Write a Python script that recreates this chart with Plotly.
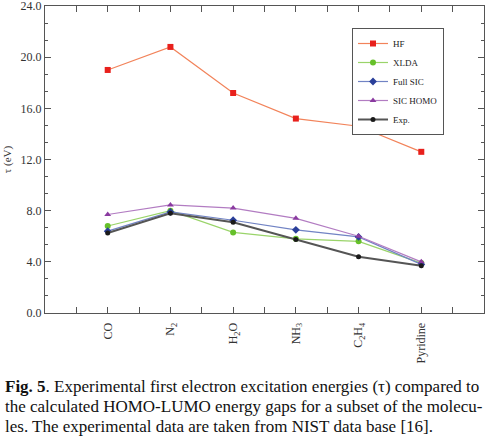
import plotly.graph_objects as go

molecules = ["CO", "N<sub>2</sub>", "H<sub>2</sub>O", "NH<sub>3</sub>", "C<sub>2</sub>H<sub>4</sub>", "Pyridine"]
positions = [0, 1, 2, 3, 4, 5]

hf = [19.0, 20.8, 17.2, 15.2, 14.6, 12.6]
xlda = [6.8, 8.0, 6.3, 5.8, 5.6, 3.9]
full_sic = [6.4, 7.9, 7.25, 6.5, 5.95, 3.8]
sic_homo = [7.7, 8.45, 8.2, 7.4, 6.0, 4.0]
exp = [6.25, 7.8, 7.1, 5.75, 4.4, 3.7]

series = [
    ("HF", hf, "#e8201c", "#f2835a", "square", 6),
    ("XLDA", xlda, "#66c02a", "#9ad46a", "circle", 6),
    ("Full SIC", full_sic, "#2a3f9a", "#7183c4", "diamond", 6),
    ("SIC HOMO", sic_homo, "#8a3aa0", "#b27cc2", "triangle-up", 6),
    ("Exp.", exp, "#1a1a1a", "#555555", "circle", 5),
]

fig = go.Figure()
for name, vals, mcol, lcol, sym, size in series:
    fig.add_trace(go.Scatter(
        x=positions, y=vals, name=name, mode="lines+markers",
        line=dict(color=lcol, width=2 if name == "Exp." else 1.2),
        marker=dict(color=mcol, symbol=sym, size=size),
    ))

serif = "Liberation Serif"
axis_common = dict(showline=True, linecolor="#555555", linewidth=1, mirror="ticks",
                   ticks="inside", ticklen=6, tickcolor="#555555", showgrid=False,
                   zeroline=False, ticklabeloverflow="allow", automargin=False,
                   tickfont=dict(family=serif, size=12, color="#333333"))

fig.update_xaxes(range=[-1, 6], tickmode="array", tickvals=positions, ticktext=molecules,
                 tickangle=-90, ticklabelstandoff=4,
                 minor=dict(dtick=0.5, tick0=0, ticks="inside", ticklen=6, tickcolor="#555555"),
                 **axis_common)
fig.update_yaxes(range=[0, 24], dtick=4, tickformat=".1f",
                 minor=dict(dtick=4/3, tick0=0, ticks="inside", ticklen=3, tickcolor="#555555"),
                 title=dict(text="τ (eV)", font=dict(family=serif, size=11, color="#333333"), standoff=6),
                 **axis_common)

PLOT_TOP, PLOT_BOTTOM, PLOT_LEFT, PLOT_RIGHT = 6, 313, 45, 484
ph = PLOT_BOTTOM - PLOT_TOP
pw = PLOT_RIGHT - PLOT_LEFT

caption = [
    "<b>Fig. 5</b>. Experimental first electron excitation energies (τ) compared to",
    "the calculated HOMO-LUMO energy gaps for a subset of the molecu-",
    "les. The experimental data are taken from NIST data base [16].",
]
ys = [386, 406, 426]
for text, yy in zip(caption, ys):
    fig.add_annotation(text=text, xref="paper", yref="paper", x=(3 - PLOT_LEFT) / pw,
                       y=(PLOT_BOTTOM - yy) / ph, xanchor="left", yanchor="middle",
                       showarrow=False, font=dict(family=serif, size=17, color="#111111"))

fig.update_layout(
    width=490, height=444,
    margin=dict(l=PLOT_LEFT, r=490 - PLOT_RIGHT, t=PLOT_TOP, b=444 - PLOT_BOTTOM),
    paper_bgcolor="white", plot_bgcolor="white",
    font=dict(family=serif),
    showlegend=True,
    legend=dict(x=(352 - PLOT_LEFT) / pw, y=(PLOT_BOTTOM - 28) / ph, xanchor="left", yanchor="top",
                bordercolor="#555555", borderwidth=1, bgcolor="white",
                font=dict(family=serif, size=9, color="#222222"),
                itemwidth=30, tracegroupgap=0),
)

fig.write_html("out.html", config={"displayModeBar": False},
               post_script="document.body.style.margin='0';")
